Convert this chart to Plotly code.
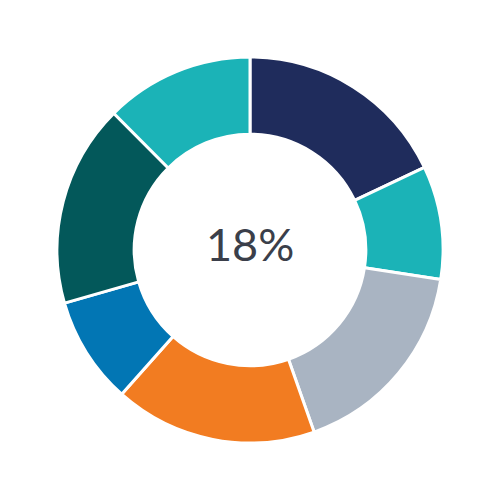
import plotly.graph_objects as go

labels = ["A", "B", "C", "D", "E", "F", "G"]
values = [18, 9.5, 17.2, 17, 9, 17, 12.5]
colors = ["#1f2c5c", "#1bb3b7", "#a9b4c2", "#f27c21", "#0276b4", "#03585a", "#1bb3b7"]
center_text = "18%"

fig = go.Figure(
    go.Pie(
        labels=labels,
        values=values,
        hole=0.6,
        sort=False,
        direction="clockwise",
        rotation=0,
        textinfo="none",
        hoverinfo="skip",
        marker=dict(colors=colors, line=dict(color="white", width=3)),
    )
)
# centre label, nudged up a little to sit like the original
fig.add_annotation(
    text=center_text,
    x=0.5,
    y=0.5,
    xref="paper",
    yref="paper",
    yshift=6,
    showarrow=False,
    font=dict(family="Lato", size=45, color="#3b3f4a"),
)
# page body adds 8px, so margins are offset to keep the ring centred
fig.update_layout(
    width=500,
    height=500,
    margin=dict(l=49, r=65, t=49, b=65),
    showlegend=False,
    paper_bgcolor="white",
    plot_bgcolor="white",
)
fig.write_html("out.html")
